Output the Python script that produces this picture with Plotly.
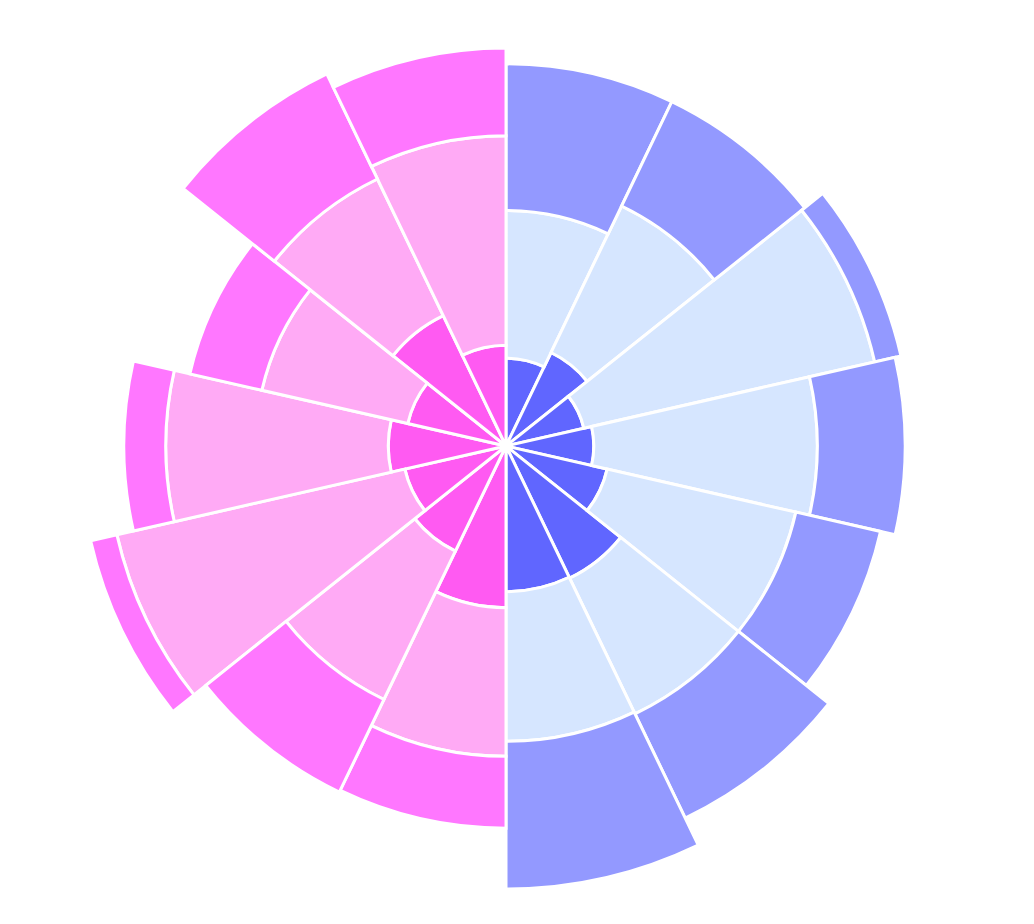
import numpy as np
import plotly.graph_objects as go

# 14 sectors, clockwise from north; first 7 = right half (blue), last 7 = left half (pink)
sector_width = 360 / 14
right_sectors = np.arange(7) * sector_width + sector_width / 2
left_sectors = right_sectors + 180

# stacked segment lengths (inner, middle, outer)
right_inner = [88, 104, 80, 88, 104, 147, 146]
right_middle = [148, 163, 299, 224, 194, 151, 150]
right_outer = [147, 116, 27, 88, 87, 116, 148]

left_inner = [162, 117, 104, 118, 101, 145, 101]
left_middle = [149, 165, 296, 223, 150, 152, 210]
left_outer = [72, 103, 27, 42, 74, 117, 88]

right_colors = ["#6066ff", "#d6e6ff", "#9399ff"]
left_colors = ["#ff5af2", "#ffaaf5", "#ff77ff"]

fig = go.Figure()
for vals, col in zip([right_inner, right_middle, right_outer], right_colors):
    fig.add_trace(go.Barpolar(r=vals, theta=right_sectors, width=sector_width,
                              marker_color=col, marker_line_color="white",
                              marker_line_width=3, showlegend=False))
for vals, col in zip([left_inner, left_middle, left_outer], left_colors):
    fig.add_trace(go.Barpolar(r=vals, theta=left_sectors, width=sector_width,
                              marker_color=col, marker_line_color="white",
                              marker_line_width=3, showlegend=False))

fig.update_layout(
    width=1034, height=924,
    margin=dict(l=62, r=84, t=0, b=32),
    paper_bgcolor="white",
    polar=dict(
        bgcolor="white",
        barmode="stack",
        radialaxis=dict(visible=False, range=[0, 445]),
        angularaxis=dict(visible=False, direction="clockwise", rotation=90),
    ),
)

# drop the browser's default body margin so the figure sits at the page corner
fig.write_html("out.html", config={"displayModeBar": False},
               post_script="document.body.style.margin = '0';")
